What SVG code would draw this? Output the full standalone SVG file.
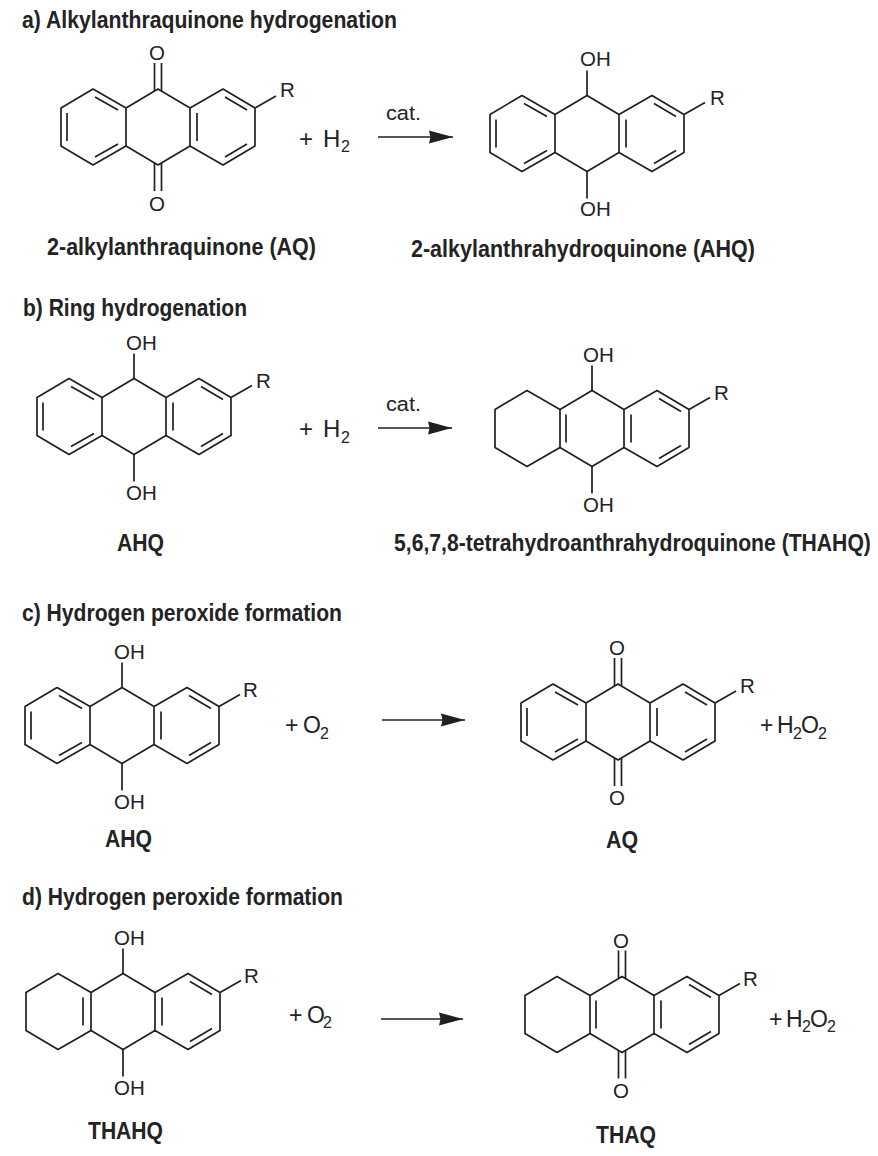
<svg xmlns="http://www.w3.org/2000/svg" xmlns:xlink="http://www.w3.org/1999/xlink" width="878" height="1156" viewBox="0 0 878 1156">
<style>
text{font-family:"Liberation Sans",Arial,sans-serif;fill:#232323}
.b{font-weight:700;font-size:23px}
.a{font-size:20.5px}
.p{font-size:24px}
.o{font-size:23px}
.s{font-size:16px}
.t{word-spacing:-6px}
.bond{fill:none;stroke:#202020;stroke-width:1.7;stroke-linejoin:round}
.arrow{fill:none;stroke:#202020;stroke-width:1.6}
</style>
<defs>
<marker id="head" markerUnits="userSpaceOnUse" markerWidth="26" markerHeight="14" refX="24" refY="7" orient="auto">
<path d="M0,0.5 L24,7 L0,13.5 L1.5,7 Z" fill="#202020"/>
</marker>
<path id="core" class="bond" d="M-32,-19 L0,-38 L32,-19 L65,-38 L97,-19 V19 L65,38 L32,19 L0,38 L-32,19 Z M32,-19 V19 M39,-14 V14 M67,-30 L89,-17 M67,30 L89,17 M97,-19 L118,-31"/>
<path id="ring-ar" class="bond" d="M-32,-19 L-65,-38 L-97,-19 V19 L-65,38 L-32,19 M-91,-14 V14 M-63,-30 L-40,-17 M-63,30 L-40,17"/>
<path id="ring-sat" class="bond" d="M-32,-19 L-65,-38 L-97,-19 V19 L-65,38 L-32,19"/>
<path id="oh-bonds" class="bond" d="M0,-38 V-63 M0,38 V65"/>
<path id="co-bonds" class="bond" d="M-3.5,-36 V-64 M3.5,-36 V-64 M-3.5,36 V64 M3.5,36 V64"/>
</defs>

<g id="titles">
<text class="b" x="22" y="28" textLength="375" lengthAdjust="spacingAndGlyphs">a) Alkylanthraquinone hydrogenation</text>
<text class="b" x="23" y="316" textLength="224" lengthAdjust="spacingAndGlyphs">b) Ring hydrogenation</text>
<text class="b" x="22" y="621" textLength="320" lengthAdjust="spacingAndGlyphs">c) Hydrogen peroxide formation</text>
<text class="b" x="22" y="905" textLength="321" lengthAdjust="spacingAndGlyphs">d) Hydrogen peroxide formation</text>
</g>

<g id="connectors">
<line id="arrow-a" class="arrow" x1="378" y1="137" x2="453" y2="137" marker-end="url(#head)"/>
<line id="arrow-b" class="arrow" x1="378" y1="428" x2="452" y2="428" marker-end="url(#head)"/>
<line id="arrow-c" class="arrow" x1="382" y1="720" x2="465" y2="720" marker-end="url(#head)"/>
<line id="arrow-d" class="arrow" x1="381" y1="1019" x2="463" y2="1019" marker-end="url(#head)"/>
</g>

<g id="node-a-aq">
<g transform="translate(158,127)"><use href="#core"/><use href="#ring-ar"/><use href="#co-bonds"/></g>
<text class="a" x="157" y="59.5" text-anchor="middle">O</text>
<text class="a" x="157" y="210.5" text-anchor="middle">O</text>
<text class="a" x="280" y="97">R</text>
<text class="b" x="47" y="255" textLength="269" lengthAdjust="spacingAndGlyphs">2-alkylanthraquinone (AQ)</text>
</g>
<g id="reagent-a">
<text class="p t" y="147"><tspan x="299">+ </tspan><tspan x="323">H</tspan><tspan class="s" x="341" y="152">2</tspan></text>
<text class="a" x="386" y="120" textLength="35" lengthAdjust="spacingAndGlyphs">cat.</text>
</g>
<g id="node-a-ahq">
<g transform="translate(587,133.5)"><use href="#core"/><use href="#ring-ar"/><use href="#oh-bonds"/></g>
<text class="a" x="580" y="66">OH</text>
<text class="a" x="580" y="216">OH</text>
<text class="a" x="710" y="105">R</text>
<text class="b" x="411" y="257" textLength="344" lengthAdjust="spacingAndGlyphs">2-alkylanthrahydroquinone (AHQ)</text>
</g>

<g id="node-b-ahq">
<g transform="translate(134,416.5)"><use href="#core"/><use href="#ring-ar"/><use href="#oh-bonds"/></g>
<text class="a" x="126" y="350">OH</text>
<text class="a" x="126" y="500">OH</text>
<text class="a" x="256" y="388">R</text>
<text class="b" x="117" y="551" textLength="47" lengthAdjust="spacingAndGlyphs">AHQ</text>
</g>
<g id="reagent-b">
<text class="p t" y="437"><tspan x="299">+ </tspan><tspan x="323">H</tspan><tspan class="s" x="341" y="443">2</tspan></text>
<text class="a" x="386" y="411" textLength="35" lengthAdjust="spacingAndGlyphs">cat.</text>
</g>
<g id="node-b-thahq">
<g transform="translate(592,428.5)"><use href="#core"/><use href="#ring-sat"/><use href="#oh-bonds"/><path class="bond" d="M-26,-14 V14"/></g>
<text class="a" x="583" y="362">OH</text>
<text class="a" x="583" y="512">OH</text>
<text class="a" x="714" y="400">R</text>
<text class="b" transform="translate(394,551) scale(0.92,1)">5,6,7,8-tetrahydroanthrahydroquinone (THAHQ)</text>
</g>

<g id="node-c-ahq">
<g transform="translate(122,725.5)"><use href="#core"/><use href="#ring-ar"/><use href="#oh-bonds"/></g>
<text class="a" x="114" y="659">OH</text>
<text class="a" x="114" y="809">OH</text>
<text class="a" x="243" y="697">R</text>
<text class="b" x="105" y="847" textLength="47" lengthAdjust="spacingAndGlyphs">AHQ</text>
</g>
<g id="reagent-c">
<text class="o t" y="733"><tspan x="285">+ </tspan><tspan x="303">O</tspan><tspan class="s" x="320" y="739">2</tspan></text>
</g>
<g id="node-c-aq">
<g transform="translate(618,722)"><use href="#core"/><use href="#ring-ar"/><use href="#co-bonds"/></g>
<text class="a" x="617" y="654.5" text-anchor="middle">O</text>
<text class="a" x="617" y="805" text-anchor="middle">O</text>
<text class="a" x="740" y="693">R</text>
<text class="b" x="606" y="848" textLength="32" lengthAdjust="spacingAndGlyphs">AQ</text>
</g>
<g id="product-c">
<text class="o t" y="733"><tspan x="760">+ </tspan><tspan x="777">H</tspan><tspan class="s" x="793" y="739">2</tspan><tspan x="801" y="733">O</tspan><tspan class="s" x="818" y="739">2</tspan></text>
</g>

<g id="node-d-thahq">
<g transform="translate(123,1011.5)"><use href="#core"/><use href="#ring-sat"/><use href="#oh-bonds"/><path class="bond" d="M-40,-14 V14"/></g>
<text class="a" x="114" y="945">OH</text>
<text class="a" x="114" y="1095">OH</text>
<text class="a" x="244" y="983">R</text>
<text class="b" x="88" y="1139" textLength="75" lengthAdjust="spacingAndGlyphs">THAHQ</text>
</g>
<g id="reagent-d">
<text class="o t" y="1023"><tspan x="289">+ </tspan><tspan x="307">O</tspan><tspan class="s" x="323" y="1028">2</tspan></text>
</g>
<g id="node-d-thaq">
<g transform="translate(622,1014.5)"><use href="#core"/><use href="#ring-sat"/><use href="#co-bonds"/><path class="bond" d="M-26,-14 V14"/></g>
<text class="a" x="621" y="948" text-anchor="middle">O</text>
<text class="a" x="621" y="1098" text-anchor="middle">O</text>
<text class="a" x="743" y="986">R</text>
<text class="b" x="596" y="1143" textLength="60" lengthAdjust="spacingAndGlyphs">THAQ</text>
</g>
<g id="product-d">
<text class="o t" y="1027"><tspan x="769">+ </tspan><tspan x="786">H</tspan><tspan class="s" x="802" y="1032">2</tspan><tspan x="810" y="1027">O</tspan><tspan class="s" x="827" y="1032">2</tspan></text>
</g>
</svg>
